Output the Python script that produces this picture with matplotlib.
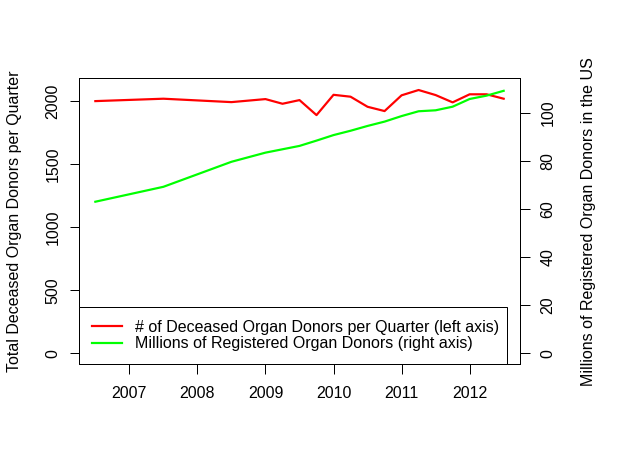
import matplotlib
matplotlib.use("Agg")
import matplotlib.pyplot as plt

plt.rcParams['font.family'] = ['Liberation Sans', 'DejaVu Sans']
plt.rcParams['font.size'] = 16

# decimal year of each observation
years = [2006.5, 2007.5, 2008.5, 2009.0, 2009.25, 2009.5, 2009.75,
         2010.0, 2010.25, 2010.5, 2010.75, 2011.0, 2011.25, 2011.5,
         2011.75, 2012.0, 2012.25, 2012.5]
deceased_donors = [2002, 2021, 1994, 2018, 1981, 2010, 1891,
                   2052, 2037, 1957, 1923, 2048, 2090, 2050,
                   1992, 2056, 2056, 2021]
registered_millions = [63.0, 69.2, 79.6, 83.4, 84.8, 86.2, 88.4,
                       90.7, 92.5, 94.5, 96.3, 98.6, 100.6, 101.0,
                       102.5, 105.7, 107.1, 109.1]

x_ticks = [2007, 2008, 2009, 2010, 2011, 2012]
left_ticks = [0, 500, 1000, 1500, 2000]
right_ticks = [0, 20, 40, 60, 80, 100]

W, H = 618, 462
fig = plt.figure(figsize=(W / 72, H / 72), dpi=72)
ax = fig.add_axes([79 / W, 1 - 364 / H, 441 / W, 285.7 / H])
ax2 = ax.twinx()

l1, = ax.plot(years, deceased_donors, color='#FF0000', lw=2.2)
l2, = ax2.plot(years, registered_millions, color='#00FF00', lw=2.2)

ax.set_xlim(2006.26, 2012.74)
ax.set_ylim(-84, 2183)
ax2.set_ylim(-4.45, 114.3)

ax.set_xticks(x_ticks)
ax.set_xticklabels([str(t) for t in x_ticks])
ax.set_yticks(left_ticks)
ax.set_yticklabels([str(t) for t in left_ticks])
ax2.set_yticks(right_ticks)
ax2.set_yticklabels([str(t) for t in right_ticks])

for a in (ax, ax2):
    a.tick_params(length=9.5, width=1, color='black', labelsize=16)
    for s in a.spines.values():
        s.set_linewidth(1)
        s.set_color('black')
ax.tick_params(axis='x', pad=13)
ax.tick_params(axis='y', pad=9)
ax2.tick_params(axis='y', pad=11)
plt.setp(ax.get_yticklabels(), rotation=90, va='center')
plt.setp(ax2.get_yticklabels(), rotation=90, va='center')

ax.set_ylabel('Total Deceased Organ Donors per Quarter', fontsize=16)
ax.yaxis.label.set_va('center')
ax.yaxis.set_label_coords((14.5 - 79) / 441, 0.5)
ax2.set_ylabel('Millions of Registered Organ Donors in the US', fontsize=16)
ax2.yaxis.label.set_va('center')
ax2.yaxis.set_label_coords((589 - 79) / 441, 0.5)

leg = ax2.legend([l1, l2],
                 ['# of Deceased Organ Donors per Quarter (left axis)',
                  'Millions of Registered Organ Donors (right axis)'],
                 loc='lower left', bbox_to_anchor=(0, 0, 428 / 441, 0.3),
                 mode='expand', borderaxespad=0, fancybox=False,
                 edgecolor='black', framealpha=1, borderpad=0.8,
                 handlelength=1.9, handletextpad=0.83, labelspacing=0.07,
                 fontsize=16)
leg.get_frame().set_linewidth(1)

fig.savefig('out.png', dpi=72)
